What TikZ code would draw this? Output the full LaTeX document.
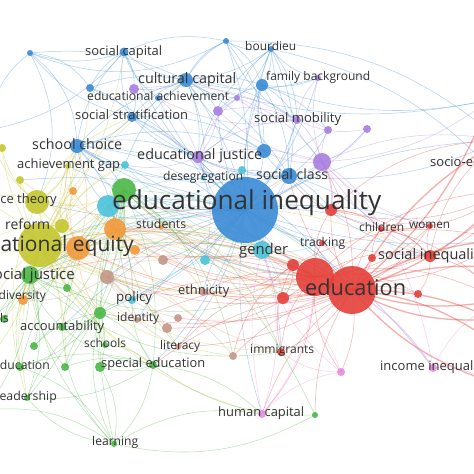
\documentclass[tikz,border=0pt]{standalone}
\usepackage{fontspec}
\setmainfont{Open Sans}
\pgfdeclarelayer{bg}
\pgfsetlayers{bg,main}
\definecolor{vblue}{HTML}{3A8BD6}
\definecolor{vred}{HTML}{E5403A}
\definecolor{vgreen}{HTML}{4CB848}
\definecolor{vyellow}{HTML}{C4C62E}
\definecolor{vpurple}{HTML}{A97FE0}
\definecolor{vcyan}{HTML}{4CC3DA}
\definecolor{vorange}{HTML}{F2993A}
\definecolor{vbrown}{HTML}{C4968A}
\definecolor{vpink}{HTML}{E98BE0}
\newcommand\kn[5]{\node[dot=#2,minimum size=#5pt] (#1) at (#3,#4) {};}
\newcommand\kwl[5]{\node[lab,anchor=west] (#1) at (#2,#3) {\resizebox{#4pt}{!}{\strut #5}};}
\newcommand\kwf[6]{\node[lab,anchor=#2,font=\fontsize{#5}{#5}\selectfont] (#1) at (#3,#4) {\strut #6};}
\newcommand\hub[4]{\foreach \n [count=\i, evaluate=\i as \bb using {2*#3*mod(\i,2)-#3}] in {#4} {\draw[#2] (#1.center) to[bend left=\bb] (\n.center);}}
\begin{document}
\begin{tikzpicture}[x=1pt,y=-1pt,
 dot/.style={circle,fill=#1,draw=none,inner sep=0pt,fill opacity=.9},
 lab/.style={inner sep=0pt,text=black!80},
 edge/.style={draw=#1,line width=.55pt,draw opacity=.38},
 fat/.style={draw=#1,line width=1.3pt,draw opacity=.42}]
\useasboundingbox (0,0) rectangle (474,474);
% off-canvas end points
\coordinate (R1) at (500,140); \coordinate (R2) at (510,190); \coordinate (R3) at (505,240);
\coordinate (R4) at (500,300); \coordinate (R5) at (490,340); \coordinate (R6) at (490,100);
\coordinate (R7) at (520,270); \coordinate (R8) at (480,320); \coordinate (R9) at (495,210);
\coordinate (R10) at (515,330); \coordinate (R11) at (485,380);
\coordinate (L1) at (-20,200); \coordinate (L2) at (-25,250); \coordinate (L3) at (-15,320);
\coordinate (L4) at (-20,370); \coordinate (L5) at (-15,410); \coordinate (L6) at (-10,130);
% blue
\kn{ei}{vblue}{245}{210}{66}
\kn{sc}{vblue}{124}{52}{9}
\kn{b1}{vblue}{30}{53}{6}
\kn{b2}{vblue}{226}{41}{6}
\kn{bo}{vblue}{271}{49}{6}
\kn{cc}{vblue}{186}{80}{14}
\kn{b3}{vblue}{262}{85}{12}
\kn{b4}{vblue}{90}{88}{8}
\kn{ea}{vblue}{158}{98}{6}
\kn{ss}{vblue}{132}{117}{10}
\kn{sch}{vblue}{77}{146}{14}
\kn{b5}{vblue}{264}{151}{14}
\kn{scl}{vblue}{289}{176}{16}
% purple
\kn{fb}{vpurple}{318}{78}{6}
\kn{p1}{vpurple}{134}{89}{10}
\kn{p2}{vpurple}{237}{98}{6}
\kn{p3}{vpurple}{218}{111}{10}
\kn{sm}{vpurple}{297}{120}{8}
\kn{p4}{vpurple}{328}{130}{8}
\kn{p5}{vpurple}{367}{129}{8}
\kn{ej}{vpurple}{198}{157}{12}
\kn{p6}{vpurple}{322}{162}{18}
% cyan
\kn{cy1}{vcyan}{125}{165}{8}
\kn{des}{vcyan}{203}{178}{5}
\kn{cy4}{vcyan}{242}{170}{8}
\kn{cy2}{vcyan}{108}{206}{22}
\kn{pol}{vcyan}{132}{300}{8}
\kn{cy3}{vcyan}{205}{260}{10}
\kn{gen}{vcyan}{262}{250}{18}
% yellow
\kn{y1}{vyellow}{2}{148}{8}
\kn{ag}{vyellow}{68}{166}{6}
\kn{y2}{vyellow}{20}{180}{8}
\kn{ct}{vyellow}{37}{202}{24}
\kn{rf}{vyellow}{27}{227}{6}
\kn{y3}{vyellow}{62}{226}{14}
\kn{ee}{vyellow}{40}{245}{44}
% orange
\kn{o1}{vorange}{73}{191}{8}
\kn{o2}{vorange}{115}{229}{22}
\kn{stu}{vorange}{161}{227}{5}
\kn{o3}{vorange}{78}{248}{24}
\kn{o4}{vorange}{135}{250}{10}
\kn{div}{vorange}{23}{300}{10}
% green
\kn{g1}{vgreen}{124}{190}{24}
\kn{sj}{vgreen}{30}{275}{18}
\kn{g2}{vgreen}{67}{288}{8}
\kn{g3}{vgreen}{100}{313}{12}
\kn{acc}{vgreen}{62}{327}{8}
\kn{ls}{vgreen}{4}{319}{8}
\kn{g4}{vgreen}{34}{346}{8}
\kn{schl}{vgreen}{105}{345}{6}
\kn{ed2}{vgreen}{20}{367}{8}
\kn{g5}{vgreen}{65}{367}{8}
\kn{g7}{vgreen}{100}{367}{10}
\kn{se}{vgreen}{153}{365}{8}
\kn{ld}{vgreen}{27}{398}{6}
\kn{lea}{vgreen}{114}{444}{6}
\kn{g6}{vgreen}{315}{415}{6}
% brown
\kn{br1}{vbrown}{107}{277}{14}
\kn{br2}{vbrown}{163}{260}{10}
\kn{eth}{vbrown}{203}{292}{8}
\kn{idn}{vbrown}{137}{320}{6}
\kn{br3}{vbrown}{178}{318}{8}
\kn{br4}{vbrown}{167}{328}{10}
\kn{lit}{vbrown}{178}{347}{6}
\kn{br5}{vbrown}{233}{356}{8}
% red
\kn{r1}{vred}{331}{210}{12}
\kn{tr}{vred}{322}{243}{6}
\kn{chi}{vred}{381}{229}{6}
\kn{wom}{vred}{430}{226}{6}
\kn{si}{vred}{430}{256}{12}
\kn{r2}{vred}{372}{258}{8}
\kn{r3}{vred}{293}{265}{12}
\kn{r4}{vred}{315}{277}{38}
\kn{edu}{vred}{352}{290}{48}
\kn{r5}{vred}{418}{294}{8}
\kn{r6}{vred}{283}{298}{12}
\kn{imm}{vred}{281}{352}{8}
% pink
\kn{p7}{vpink}{341}{372}{8}
\kn{ii}{vpink}{433}{368}{8}
\kn{hc}{vpink}{262}{414}{8}
% edges
\begin{pgfonlayer}{bg}
\fill[white] (0,0) rectangle (474,474);
\clip (0,0) rectangle (474,474);
\hub{ei}{edge=vblue}{12}{sc,b2,bo,cc,b3,b4,ea,ss,sch,b5,scl,fb,p3,sm,ej,p6,cy1,des,cy4,cy2,gen,cy3,pol,ee,ct,o2,g1,sj,br2,eth,r1,r4,edu,si,chi,tr,imm,hc,se,acc,ii,y2,ag,o3,R1,R3,p4,p5,wom,br1,g3,idn,lit,stu}
\hub{edu}{fat=vred}{14}{R1,R2,R3,R4,R5,R6,R7,R8,R10,R11}
\hub{edu}{edge=vred}{16}{r1,tr,chi,wom,si,r2,r3,r4,r5,r6,imm,gen,scl,p6,p7,hc,eth,br5,lit,g6,ee,o2,br1,se,cy3,br2,o3,idn,br3,pol,g3,sj,stu}
\hub{edu}{fat=vpink}{12}{ii}
\hub{r4}{edge=vred}{20}{R2,R3,R4,R9,tr,chi,si,imm,gen,cy3,br2,eth,o2,ee,r1,wom,r5,p7,hc,lit,br4,o4,g1,cy2}
\hub{r1}{edge=vred}{20}{R1,R2,chi,wom,si,p6,scl}
\hub{chi}{edge=vred}{18}{wom,R2,R4,r2}
\hub{si}{edge=vred}{20}{R1,R2,R4,chi,wom,r2,r5}
\hub{r3}{edge=vred}{20}{r6,imm,eth,br5,R3}
\hub{ee}{edge=vyellow}{14}{y1,ag,y2,ct,rf,y3,o1,o2,o3,o4,sj,div,g2,g3,acc,sch,ss,cy2,g1,br1,pol,L1,L2,L3,L4,ld,ls,ed2,cc,sc,cy1,b4,br2,eth,schl,se,g5}
\hub{ee}{edge=vyellow}{22}{edu,r4,r6,imm,gen,br5,lit,hc,si,scl}
\hub{ct}{edge=vyellow}{20}{y1,ag,y2,sch,ss,L1,L6,y3,o2,g1,sj,ld}
\hub{y3}{edge=vyellow}{20}{sch,ag,cy1,o2,sj,div,acc,L2}
\hub{cc}{edge=vblue}{15}{sc,b1,b2,bo,b3,b4,ea,ss,p1,p2,p3,fb,sm,sch,scl,b5,ej,R6,des,cy1}
\hub{ss}{edge=vblue}{18}{sc,b4,sch,ej,des,p1,b1,ea,b5,scl}
\hub{sc}{edge=vblue}{18}{b1,b4,b2,sch,p1,ea,L6}
\hub{b1}{edge=vblue}{25}{sch,L6,ct,b2,b4}
\hub{bo}{edge=vblue}{18}{b3,fb,sm,b5,scl,p6,b2,p2,p3,ej,R2}
\hub{b2}{edge=vblue}{20}{b3,cc,R1,sm,b5}
\hub{b3}{edge=vblue}{15}{sm,b5,scl,p3,ej,fb,p4,R6}
\hub{sch}{edge=vblue}{18}{ag,cy1,ej,des,b5,scl,g1,cy2,o2}
\hub{sch}{edge=vblue}{25}{edu,r4,gen}
\hub{scl}{edge=vblue}{15}{b5,p6,sm,p4,ej,des,cy4,gen,r1,si,chi,R1}
\hub{p6}{edge=vpurple}{16}{fb,sm,p4,p5,p3,ej,b5,si,R1,R6,chi,wom,r1,p2}
\hub{sm}{edge=vpurple}{18}{p4,p5,fb,p3,p2,p1,ea,ej}
\hub{ej}{edge=vpurple}{16}{p1,p3,p2,ea,des,cy4,cy1,gen,cy3}
\hub{g1}{edge=vgreen}{15}{sj,g2,g3,acc,g4,ed2,g5,g7,se,schl,ld,lea,g6,cy2,o2,pol,div,ls,br1}
\hub{g1}{edge=vgreen}{22}{edu,r4,imm,gen,eth,lit,br5}
\hub{sj}{edge=vgreen}{18}{div,ls,g4,ed2,ld,acc,L3,L4,L5,g2,g3,g5,schl,lea}
\hub{sj}{edge=vgreen}{25}{edu,r4,gen,imm}
\hub{se}{edge=vgreen}{18}{lea,g5,g7,schl,ld,g3,hc,g6,acc,ed2,pol}
\hub{lea}{edge=vgreen}{20}{ld,ed2,hc,g6,acc,g7,g3,L5}
\hub{g3}{edge=vgreen}{18}{acc,g4,ed2,g5,g7,ld,pol,idn}
\hub{o2}{edge=vorange}{18}{o3,o4,o1,div,pol,br2,cy3,cy2,g1,stu}
\hub{o2}{edge=vorange}{22}{edu,r4,r6,gen,eth,imm}
\hub{o3}{edge=vorange}{18}{o1,y2,ag,sch,div,sj,br1,edu,r4,g3}
\hub{br1}{edge=vbrown}{18}{br2,eth,idn,br3,br4,lit,br5,pol,div}
\hub{ii}{edge=vpink}{18}{R4,p6,R11}
\hub{hc}{edge=vpink}{18}{scl,r4,p7,gen}
\hub{p7}{edge=vpink}{18}{gen,r6,imm}
\hub{gen}{edge=vcyan}{16}{cy3,cy4,des,cy2,cy1,pol,r6,tr}
\hub{cy2}{edge=vcyan}{16}{cy1,cy4,pol,cy3,des,o2}
\end{pgfonlayer}
% labels
\kwl{t1}{85}{52}{77}{social capital}
\kwl{t2}{245}{48}{51}{bourdieu}
\kwl{t3}{138}{80}{98}{cultural capital}
\kwl{t4}{266}{78}{104}{family background}
\kwl{t5}{87}{98}{142}{educational achievement}
\kwl{t6}{75}{116}{113}{social stratification}
\kwl{t7}{254}{119}{87}{social mobility}
\kwl{t8}{32}{146}{90}{school choice}
\kwl{t9}{137}{156}{125}{educational justice}
\kwl{t10}{17}{165}{103}{achievement gap}
\kwf{t11}{west}{430}{164}{13}{socio-ec}
\kwl{t12}{163}{178}{80}{desegregation}
\kwl{t13}{256}{176}{72}{social class}
\kwl{t14}{112}{203}{269}{educational inequality}
\kwf{t15}{east}{57}{201}{13}{ce theory}
\kwl{t16}{5}{226}{45}{reform}
\kwl{t17}{136}{226}{50}{students}
\kwl{t18}{359}{229}{45}{children}
\kwl{t19}{409}{226}{41}{women}
\kwf{t20}{east}{134}{247}{21}{educational equity}
\kwl{t21}{300}{244}{45}{tracking}
\kwl{t22}{239}{251}{49}{gender}
\kwf{t23}{west}{378}{256}{14.5}{social inequality}
\kwf{t24}{east}{75}{276}{15}{social justice}
\kwl{t25}{305}{290}{101}{education}
\kwf{t26}{east}{46}{297}{12}{diversity}
\kwl{t27}{116}{298}{36}{policy}
\kwl{t28}{178}{291}{51}{ethnicity}
\kwl{t29}{117}{319}{42}{identity}
\kwl{t30}{20}{327}{84}{accountability}
\kwf{t31}{east}{9}{320}{12}{ls}
\kwl{t32}{84}{345}{42}{schools}
\kwl{t33}{160}{347}{40}{literacy}
\kwl{t34}{250}{351}{64}{immigrants}
\kwf{t35}{east}{50}{367}{12.2}{ducation}
\kwl{t36}{101}{364}{104}{special education}
\kwf{t37}{west}{380}{368}{13}{income inequality}
\kwf{t38}{east}{57}{398}{12.3}{eadership}
\kwl{t39}{218}{413}{86}{human capital}
\kwl{t40}{92}{443}{46}{learning}
\end{tikzpicture}
\end{document}
